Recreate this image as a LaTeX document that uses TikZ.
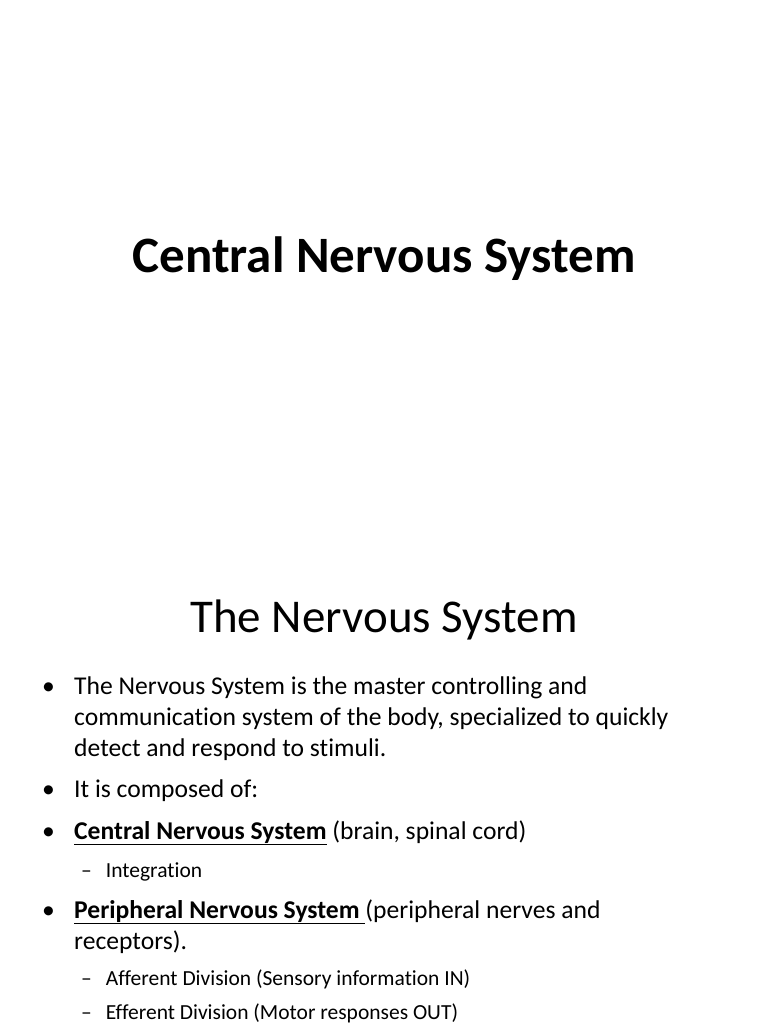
\documentclass[tikz,border=0pt]{standalone}
\usepackage{fontspec}
\setmainfont[Ligatures=NoCommon]{Carlito}
\begin{document}
\begin{tikzpicture}[x=1pt,y=-1pt,
  tx/.style={anchor=base west,inner sep=0pt,font=\fontsize{25.6}{30}\selectfont},
  sub/.style={anchor=base west,inner sep=0pt,font=\fontsize{21.5}{26}\selectfont}]
\useasboundingbox[fill=white] (0,0) rectangle (768,1024);
\node[inner sep=0pt,font=\fontsize{51}{60}\selectfont\bfseries] (t1) at (384,259) {Central Nervous System};
\node[inner sep=0pt,font=\fontsize{47}{56}\selectfont] (t2) at (384,620) {The Nervous System};
\foreach \y in {694,797,839,918} \node[tx] at (42,\y) {•};
\node[tx] (a1) at (74,694) {The Nervous System is the master controlling and};
\node[tx] (a2) at (74,725) {communication system of the body, specialized to quickly};
\node[tx] (a3) at (74,756) {detect and respond to stimuli.};
\node[tx] (b) at (74,797) {It is composed of:};
\node[tx] (c) at (74,839) {\textbf{\underline{Central Nervous System}} (brain, spinal cord)};
\node[sub] (c1) at (81,877) {–\hspace{14pt}Integration};
\node[tx] (d) at (74,918) {\textbf{\underline{Peripheral Nervous System\ }}(peripheral nerves and};
\node[tx] (d2) at (74,949) {receptors).};
\node[sub] (e1) at (81,985) {–\hspace{14pt}Afferent Division (Sensory information IN)};
\node[sub] (e2) at (81,1019) {–\hspace{14pt}Efferent Division (Motor responses OUT)};
\end{tikzpicture}
\end{document}
